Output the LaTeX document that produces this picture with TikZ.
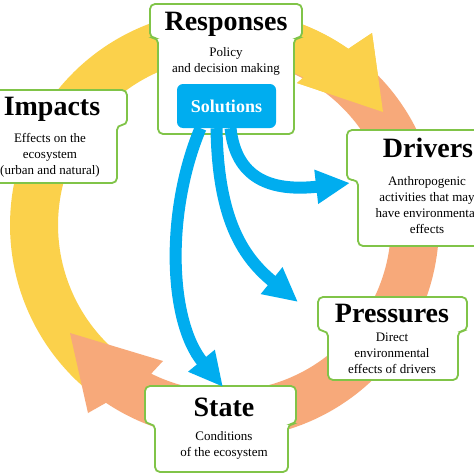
\documentclass[tikz,border=0pt]{standalone}
\usepackage{fontspec}
\setmainfont{Liberation Serif}
\usetikzlibrary{arrows.meta,calc}
\definecolor{ringY}{RGB}{251,209,75}
\definecolor{ringO}{RGB}{247,169,122}
\definecolor{solblue}{RGB}{0,173,239}
\definecolor{boxgreen}{RGB}{128,196,72}
\begin{document}
\begin{tikzpicture}[x=1pt,y=-1pt,
  box/.style={draw=boxgreen, line width=1.8pt, fill=white, rounded corners=5pt},
  head/.style={font=\fontsize{28}{30}\selectfont\bfseries, anchor=base, inner sep=0pt},
  body/.style={font=\fontsize{13}{15.8}\selectfont, align=center, anchor=base, inner sep=0pt},
  bluearr/.style={draw=solblue, line width=12pt, -{Triangle[length=34pt,width=32pt]}},
  solbox/.style={fill=solblue, rounded corners=6pt, minimum width=99pt, minimum height=44pt, inner sep=0pt, text=white, font=\fontsize{18}{20}\selectfont\bfseries}]
\useasboundingbox (0,0) rectangle (474,474);
\clip (0,0) rectangle (474,474);
\fill[white] (0,0) rectangle (474,474);

% ring: yellow arc (Impacts -> Responses -> Drivers)
\fill[ringY] plot[domain=128:305,samples=90] ({225+215*cos(\x)},{225+215*sin(\x)})
  -- (372,33) -- (383,112) -- (297,83)
  -- plot[domain=298:128,samples=90] ({225+167*cos(\x)},{225+167*sin(\x)}) -- cycle;
% ring: orange arc (Drivers -> Pressures -> State -> Impacts)
\fill[ringO] plot[domain=290:476.4,samples=100] ({225+166*cos(\x)},{225+166*sin(\x)})
  -- (163,361) -- (70,333) -- (88,413)
  -- plot[domain=483.8:290,samples=100] ({225+214*cos(\x)},{225+214*sin(\x)}) -- cycle;
% yellow head again on top of the orange start
\fill[ringY] plot[domain=283:305,samples=20] ({225+215*cos(\x)},{225+215*sin(\x)})
  -- (372,33) -- (383,112) -- (297,83)
  -- plot[domain=298:283,samples=20] ({225+167*cos(\x)},{225+167*sin(\x)}) -- cycle;

% boxes
\draw[box] (150,4) -- (302,4) -- (302,38) -- (294,38) -- (294,134) -- (158,134) -- (158,38) -- (150,38) -- cycle;
\draw[box] (-12,90) -- (127,90) -- (127,125) -- (117,125) -- (117,183) -- (-12,183) -- cycle;
\draw[box] (347,130) -- (500,130) -- (500,246) -- (358,246) -- (358,180) -- (347,180) -- cycle;
\draw[box] (318,297) -- (467,297) -- (467,331) -- (458,331) -- (458,380) -- (328,380) -- (328,331) -- (318,331) -- cycle;
\draw[box] (145,386) -- (296,386) -- (296,424) -- (288,424) -- (288,472) -- (155,472) -- (155,424) -- (145,424) -- cycle;

% solutions
\node[solbox] (sol) at (226.5,106) {Solutions};
\coordinate (toDrivers) at (350,183);
\coordinate (toPressures) at (298,302);
\coordinate (toState) at (223,387);
\draw[bluearr] ([xshift=4pt]sol.south) .. controls (236,178) and (270,192) .. (toDrivers);
\draw[bluearr] ([xshift=-10pt]sol.south) .. controls (218,215) and (240,255) .. (toPressures);
\draw[bluearr] ([xshift=-26pt]sol.south) .. controls (166,210) and (168,320) .. (toState);

% texts (multi-line: base anchor = last line)
\node[head] (tResp) at (226,30) {Responses};
\node[body] (dResp) at (226,72) {Policy\\and decision making};
\node[head] (tImp) at (52,115) {Impacts};
\node[body] (dImp) at (50,174) {Effects on the\\ecosystem\\(urban and natural)};
\node[head] (tDrv) at (428,157) {Drivers};
\node[body] (dDrv) at (427,233) {Anthropogenic\\activities that may\\have environmental\\effects};
\node[head] (tPrs) at (392,322) {Pressures};
\node[body] (dPrs) at (392,373) {Direct\\environmental\\effects of drivers};
\node[head] (tSt) at (224,416) {State};
\node[body] (dSt) at (224,456) {Conditions\\of the ecosystem};
\end{tikzpicture}
\end{document}
